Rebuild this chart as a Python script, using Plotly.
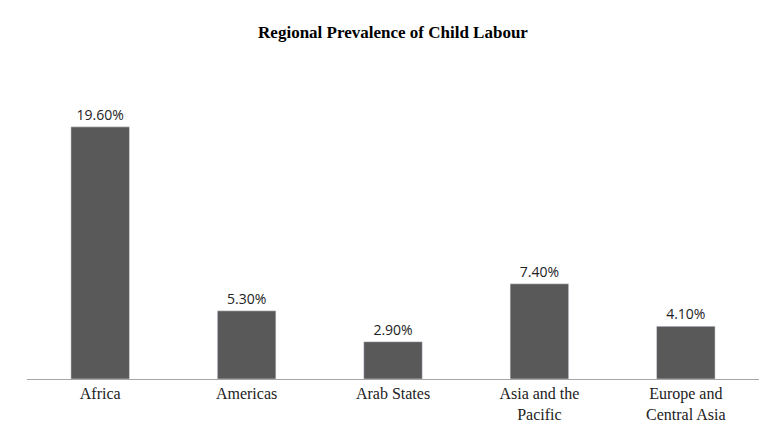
import plotly.graph_objects as go

categories = ["Africa", "Americas", "Arab States", "Asia and the<br>Pacific", "Europe and<br>Central Asia"]
values = [19.6, 5.3, 2.9, 7.4, 4.1]
labels = [f"{v:.2f}%" for v in values]

fig = go.Figure(go.Bar(
    x=categories, y=values, text=labels, textposition="outside",
    marker_color="#595959", width=0.4,
    textfont=dict(family="Open Sans", size=14, color="#222"),
    cliponaxis=False,
))
fig.update_layout(
    width=770, height=446,
    margin=dict(l=19, r=19, t=88, b=75),
    paper_bgcolor="white", plot_bgcolor="white",
    title=dict(text="<b>Regional Prevalence of Child Labour</b>", x=0.5, xanchor="center",
               y=0.945, yanchor="middle",
               font=dict(family="Liberation Serif", size=17, color="black")),
    showlegend=False,
)
fig.update_xaxes(showline=True, linecolor="#a6a6a6", linewidth=1, ticks="",
                 tickfont=dict(family="Liberation Serif", size=16, color="#222"))
fig.update_yaxes(range=[0, 22], visible=False)
fig.write_html("out.html")
